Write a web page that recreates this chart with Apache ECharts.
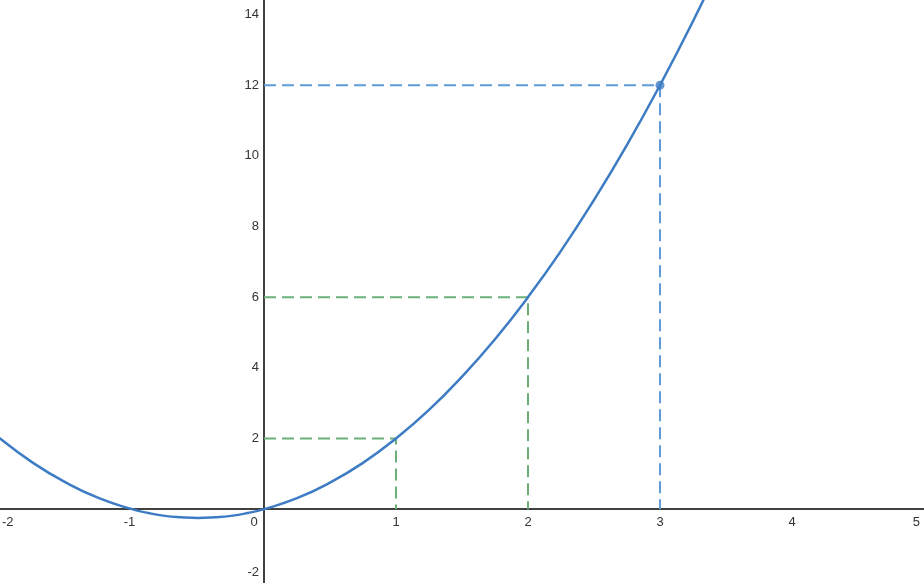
<!DOCTYPE html>
<html lang="en">
<head>
    <meta charset="UTF-8">
    <title>curve</title>
    <script src="https://cdn.jsdelivr.net/npm/echarts@6/dist/echarts.min.js"></script>
    <style>
        html, body { margin: 0; padding: 0; background: #fff; }
        #main { width: 924px; height: 583px; }
    </style>
</head>
<body>
    <div id="main"></div>
    <script>
        // curve points
        var curveX = [-2.25, -2, -1.75, -1.5, -1.25, -1, -0.875, -0.75, -0.625, -0.5, -0.375, -0.25, -0.125,
            0, 0.25, 0.5, 0.75, 1, 1.25, 1.5, 1.75, 2, 2.25, 2.5, 2.75, 3, 3.25, 3.5];
        var curveY = [2.81, 2, 1.31, 0.75, 0.31, 0, -0.11, -0.19, -0.23, -0.25, -0.23, -0.19, -0.11,
            0, 0.31, 0.75, 1.31, 2, 2.81, 3.75, 4.81, 6, 7.31, 8.75, 10.31, 12, 13.81, 15.75];

        // dashed guides
        var guide1 = [[0, 2], [1, 2], [1, 0]];
        var guide2 = [[0, 6], [2, 6], [2, 0]];
        var guide3 = [[0, 12], [3, 12], [3, 0]];
        var dot = [[3, 12]];

        var xTicks = [-2, -1, 0, 1, 2, 3, 4, 5];
        var yTicks = [-2, 0, 2, 4, 6, 8, 10, 12, 14];

        var curve = curveX.map(function (x, i) { return [x, curveY[i]]; });

        var W = 924, H = 583;
        var yMin = -2.09, yMax = 14.41;
        // put the axes through the origin
        var xAxisOffset = -Math.round(H * (0 - yMin) / (yMax - yMin));
        var yAxisOffset = -Math.round(W * (0 - xTicks[0]) / (xTicks[xTicks.length - 1] - xTicks[0]));

        var myChart = echarts.init(document.getElementById('main'));
        var FONT = 'Liberation Sans, Arial, sans-serif';
        var labelFont = { color: '#333', fontSize: 13, fontFamily: FONT };
        var rt = function (pad) { return { padding: pad, color: '#333', fontSize: 13, fontFamily: FONT }; };

        var option = {
            animation: false,
            grid: { left: 0, right: 0, top: 0, bottom: 0, containLabel: false, outerBoundsMode: 'none' },
            xAxis: {
                type: 'value',
                min: xTicks[0],
                max: xTicks[xTicks.length - 1],
                interval: 1,
                position: 'bottom',
                offset: xAxisOffset,
                axisLine: { onZero: false, lineStyle: { color: '#000', width: 1.5 } },
                axisTick: { show: false },
                splitLine: { show: false },
                axisLabel: Object.assign({
                    margin: 7,
                    alignMinLabel: 'left',
                    alignMaxLabel: 'right',
                    formatter: function (v) {
                        if (v === xTicks[0]) return '{l|' + v + '}';
                        if (v === xTicks[xTicks.length - 1]) return '{r|' + v + '}';
                        if (v === 0) return '{z|0}';
                        if (v < 0) return '{n|' + v + '}';
                        return String(v);
                    },
                    rich: {
                        z: rt([0, 20, 0, 0]),
                        n: rt([0, 5, 0, 0]),
                        l: rt([0, 0, 0, 2]),
                        r: rt([0, 4, 0, 0])
                    }
                }, labelFont)
            },
            yAxis: {
                type: 'value',
                min: yMin,
                max: yMax,
                position: 'left',
                offset: yAxisOffset,
                axisLine: { onZero: false, lineStyle: { color: '#000', width: 1.5 } },
                axisTick: { show: false },
                splitLine: { show: false },
                axisLabel: Object.assign({
                    margin: 5,
                    customValues: yTicks,
                    formatter: function (v) {
                        if (v === 0) return '';
                        if (v === yTicks[0]) return '{b|' + v + '}';
                        return String(v);
                    },
                    rich: { b: rt([0, 0, 14, 0]) }
                }, labelFont)
            },
            series: [
                {
                    type: 'line',
                    data: guide1,
                    symbol: 'none',
                    lineStyle: { color: '#6aaf78', width: 2, type: [12, 6] },
                    z: 2
                },
                {
                    type: 'line',
                    data: guide2,
                    symbol: 'none',
                    lineStyle: { color: '#6aaf78', width: 2, type: [12, 6] },
                    z: 2
                },
                {
                    type: 'line',
                    data: guide3,
                    symbol: 'none',
                    lineStyle: { color: '#5f9bd6', width: 2, type: [12, 6] },
                    z: 2
                },
                {
                    type: 'line',
                    data: curve,
                    smooth: 0.5,
                    symbol: 'none',
                    clip: true,
                    lineStyle: { color: '#3d7cc4', width: 2.5 },
                    z: 3
                },
                {
                    type: 'scatter',
                    data: dot,
                    symbolSize: 9,
                    itemStyle: { color: '#3d7cc4' },
                    z: 4
                }
            ]
        };

        myChart.setOption(option);
        window.onresize = myChart.resize;
    </script>
</body>
</html>
